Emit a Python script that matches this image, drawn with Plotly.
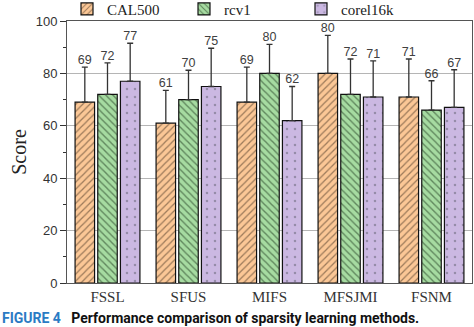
import plotly.graph_objects as go

# Methods compared and the three datasets
methods = ["FSSL", "SFUS", "MIFS", "MFSJMI", "FSNM"]
datasets = ["CAL500", "rcv1", "corel16k"]

# Mean scores per dataset (one value per method)
cal500 = [69, 61, 69, 80, 71]
rcv1 = [72, 70, 80, 72, 66]
corel16k = [77, 75, 62, 71, 67]

# Upper error (standard deviation) per dataset
cal500_err = [13.4, 12.5, 13.4, 14.5, 14.5]
rcv1_err = [12.0, 11.2, 11.1, 13.5, 11.2]
corel16k_err = [14.5, 14.6, 13.0, 13.8, 14.4]

scores = [cal500, rcv1, corel16k]
errors = [cal500_err, rcv1_err, corel16k_err]

fills = ["#fbc796", "#a6dba1", "#cbb8e2"]
patterns = [
    dict(shape="/", fgcolor="#3e2e1e", size=5, solidity=0.25),
    dict(shape="\\", fgcolor="#1a331a", size=5, solidity=0.28),
    dict(shape=".", fgcolor="#5f5f70", size=8, solidity=0.08),
]

BARGAP = 0.16
GROUPGAP = 0.14
slot = (1 - BARGAP) / len(datasets)

xpos = list(range(len(methods)))
fig = go.Figure()

for k, name in enumerate(datasets):
    fig.add_trace(go.Bar(
        x=xpos, y=scores[k], name=name,
        marker=dict(color=fills[k], pattern=patterns[k],
                    line=dict(color="#111111", width=1.2)),
        error_y=dict(type="data", symmetric=False, array=errors[k],
                     arrayminus=[0] * len(methods),
                     color="#333333", thickness=1.3, width=3),
    ))

# Value labels sitting above each error-bar cap
for k, name in enumerate(datasets):
    off = (k - (len(datasets) - 1) / 2) * slot
    fig.add_trace(go.Scatter(
        x=[i + off for i in xpos],
        y=[v + e for v, e in zip(scores[k], errors[k])],
        mode="text", text=[str(v) for v in scores[k]],
        textposition="top center",
        textfont=dict(family="Liberation Sans, Arial", size=12.5, color="#404040"),
        showlegend=False, hoverinfo="skip",
    ))

fig.update_layout(
    width=474, height=327,
    margin=dict(l=67, r=2, t=21, b=44, autoexpand=False),
    paper_bgcolor="white", plot_bgcolor="white",
    barmode="group", bargap=BARGAP, bargroupgap=GROUPGAP,
    showlegend=True,
    legend=dict(
        orientation="h", x=0.0, xanchor="left", y=1.045, yanchor="middle",
        font=dict(family="Liberation Serif, Times New Roman", size=15, color="#222222"),
        bgcolor="rgba(0,0,0,0)", tracegroupgap=0, itemwidth=30, entrywidth=72,
    ),
    font=dict(family="Liberation Sans, Arial", color="#333333"),
)

fig.update_xaxes(
    range=[-0.5, len(methods) - 0.5],
    tickmode="array", tickvals=xpos, ticktext=methods,
    tickfont=dict(family="Liberation Serif, Times New Roman", size=15, color="#333333"),
    showgrid=False, zeroline=False, ticks="",
    showline=True, linecolor="#555555", linewidth=1, mirror=True,
)

fig.update_yaxes(
    range=[0, 100], tickmode="array", tickvals=[0, 20, 40, 60, 80, 100],
    tickfont=dict(family="Liberation Sans, Arial", size=13, color="#333333"),
    ticks="outside", ticklen=6, tickcolor="#333333",
    minor=dict(tickvals=[10, 30, 50, 70, 90], ticks="outside", ticklen=3,
               tickcolor="#333333", showgrid=False),
    showgrid=True, gridcolor="#b5b5b5", gridwidth=1,
    zeroline=False,
    showline=True, linecolor="#555555", linewidth=1, mirror=True,
    title=dict(text="Score", font=dict(family="Liberation Serif, Times New Roman",
                                        size=20, color="#222222"), standoff=3),
)

# Figure caption below the chart
fig.add_annotation(
    xref="paper", yref="paper", x=-0.165, y=-0.094, xanchor="left", yanchor="top",
    text="<b><span style='color:#2a7bc4'>FIGURE 4</span>&nbsp;&nbsp;&nbsp;"
         "Performance comparison of sparsity learning methods.</b>",
    showarrow=False, align="left",
    font=dict(family="Liberation Sans Narrow, Roboto, Arial", size=14, color="#111111"),
)

fig.write_html("out.html")
